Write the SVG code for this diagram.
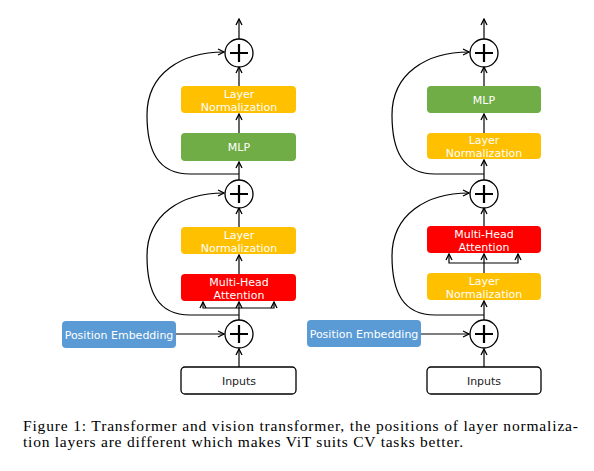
<svg xmlns="http://www.w3.org/2000/svg" width="594" height="471" viewBox="0 0 594 471">
<defs>
<marker id="ah" viewBox="0 0 8 8" refX="7" refY="4" markerWidth="8" markerHeight="8" markerUnits="userSpaceOnUse" orient="auto">
<path d="M1,1 L7,4 L1,7" fill="none" stroke="#000" stroke-width="1.3" stroke-linejoin="miter"/>
</marker>
<g id="plus">
<circle r="14" fill="#fff" stroke="#000" stroke-width="1.3"/>
<path d="M-9,0 H9 M0,-9 V9" stroke="#000" stroke-width="2.2"/>
</g>
</defs>
<style>
.box{stroke:none}
.ln{fill:#FFC000}
.mlp{fill:#70AD47}
.mha{fill:#FF0000}
.pe{fill:#5B9BD5}
.inp{fill:#fff;stroke:#000;stroke-width:1.3}
.t{font-family:"DejaVu Sans",sans-serif;font-size:11px;fill:#fff;text-anchor:middle}
.tk{font-family:"DejaVu Sans",sans-serif;font-size:11px;fill:#222;text-anchor:middle}
.c{fill:none;stroke:#000;stroke-width:1.2}
.cap{font-family:"Liberation Serif",serif;font-size:15.5px;fill:#000}
</style>
<rect width="594" height="471" fill="#fff"/>

<g id="connectors">
<!-- left -->
<path class="c" d="M239,367 V349" marker-end="url(#ah)"/>
<path class="c" d="M176,334 H224" marker-end="url(#ah)"/>
<path class="c" d="M239,320 V302" marker-end="url(#ah)"/>
<path class="c" d="M239,308 H203 V302" marker-end="url(#ah)"/>
<path class="c" d="M239,308 H274 V302" marker-end="url(#ah)"/>
<path class="c" d="M239,274 V255" marker-end="url(#ah)"/>
<path class="c" d="M239,227 V208" marker-end="url(#ah)"/>
<path class="c" d="M239,315 H190 C158,315 147,292 147,256 C147,214 182,193 224,193" marker-end="url(#ah)"/>
<path class="c" d="M239,180 V162" marker-end="url(#ah)"/>
<path class="c" d="M239,133 V114" marker-end="url(#ah)"/>
<path class="c" d="M239,86 V67" marker-end="url(#ah)"/>
<path class="c" d="M239,39 V19" marker-end="url(#ah)"/>
<path class="c" d="M239,174 H190 C158,174 147,151 147,115 C147,73 182,52 224,52" marker-end="url(#ah)"/>
<!-- right -->
<path class="c" d="M484,367 V349" marker-end="url(#ah)"/>
<path class="c" d="M421,334 H469" marker-end="url(#ah)"/>
<path class="c" d="M484,320 V301" marker-end="url(#ah)"/>
<path class="c" d="M484,273 V254" marker-end="url(#ah)"/>
<path class="c" d="M484,263 H449 V254" marker-end="url(#ah)"/>
<path class="c" d="M484,263 H518 V254" marker-end="url(#ah)"/>
<path class="c" d="M484,226 V208" marker-end="url(#ah)"/>
<path class="c" d="M484,315 H435 C403,315 392,292 392,256 C392,214 427,193 469,193" marker-end="url(#ah)"/>
<path class="c" d="M484,180 V160" marker-end="url(#ah)"/>
<path class="c" d="M484,133 V114" marker-end="url(#ah)"/>
<path class="c" d="M484,86 V67" marker-end="url(#ah)"/>
<path class="c" d="M484,39 V19" marker-end="url(#ah)"/>
<path class="c" d="M484,174 H435 C403,174 392,151 392,115 C392,73 427,52 469,52" marker-end="url(#ah)"/>
</g>

<!-- left column -->
<g id="L-inputs"><rect class="inp" x="181" y="367" width="115" height="27" rx="4"/><text class="tk" x="239" y="384.5">Inputs</text></g>
<g id="L-pe"><rect class="box pe" x="62" y="321" width="114" height="27" rx="4"/><text class="t" x="119" y="338.5">Position Embedding</text></g>
<g id="L-add1"><use href="#plus" x="239" y="334"/></g>
<g id="L-mha"><rect class="box mha" x="181" y="274" width="115" height="27" rx="4"/><text class="t" x="239" y="285.5">Multi-Head</text><text class="t" x="239" y="298.5">Attention</text></g>
<g id="L-ln1"><rect class="box ln" x="181" y="227" width="115" height="27" rx="4"/><text class="t" x="239" y="238.5">Layer</text><text class="t" x="239" y="251.5">Normalization</text></g>
<g id="L-add2"><use href="#plus" x="239" y="194"/></g>
<g id="L-mlp"><rect class="box mlp" x="181" y="133" width="115" height="28" rx="4"/><text class="t" x="239" y="151">MLP</text></g>
<g id="L-ln2"><rect class="box ln" x="181" y="86" width="115" height="27" rx="4"/><text class="t" x="239" y="97.5">Layer</text><text class="t" x="239" y="110.5">Normalization</text></g>
<g id="L-add3"><use href="#plus" x="239" y="53"/></g>

<!-- right column -->
<g id="R-inputs"><rect class="inp" x="427" y="367" width="114" height="27" rx="4"/><text class="tk" x="484" y="384.5">Inputs</text></g>
<g id="R-pe"><rect class="box pe" x="307" y="320" width="114" height="27" rx="4"/><text class="t" x="364" y="337.5">Position Embedding</text></g>
<g id="R-add1"><use href="#plus" x="484" y="334"/></g>
<g id="R-ln1"><rect class="box ln" x="427" y="273" width="114" height="27" rx="4"/><text class="t" x="484" y="284.5">Layer</text><text class="t" x="484" y="297.5">Normalization</text></g>
<g id="R-mha"><rect class="box mha" x="427" y="226" width="114" height="27" rx="4"/><text class="t" x="484" y="237.5">Multi-Head</text><text class="t" x="484" y="250.5">Attention</text></g>
<g id="R-add2"><use href="#plus" x="484" y="194"/></g>
<g id="R-ln2"><rect class="box ln" x="427" y="133" width="114" height="26" rx="4"/><text class="t" x="484" y="144">Layer</text><text class="t" x="484" y="157">Normalization</text></g>
<g id="R-mlp"><rect class="box mlp" x="427" y="86" width="114" height="27" rx="4"/><text class="t" x="484" y="103.5">MLP</text></g>
<g id="R-add3"><use href="#plus" x="484" y="53"/></g>

<text class="cap" x="23" y="431" textLength="555" lengthAdjust="spacing">Figure 1: Transformer and vision transformer, the positions of layer normaliza-</text>
<text class="cap" x="23" y="447" textLength="440" lengthAdjust="spacing">tion layers are different which makes ViT suits CV tasks better.</text>
</svg>
